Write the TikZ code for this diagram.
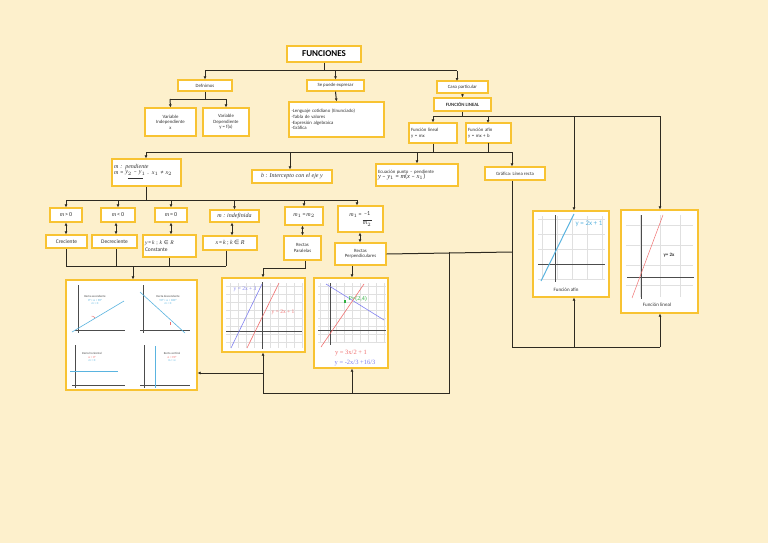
\documentclass[tikz,border=0pt]{standalone}
\usepackage{fontspec}
\setmainfont{Carlito}
\newfontfamily\serifit{Liberation Serif}[ItalicFont=* Italic]
\newfontfamily\dejav{DejaVu Sans}
\usetikzlibrary{arrows.meta}
\definecolor{bgc}{HTML}{FDF0CC}
\definecolor{gold}{HTML}{F8C332}
\definecolor{ln}{HTML}{2E2A20}
\definecolor{sky}{HTML}{5AB4E0}
\definecolor{rd}{HTML}{F07070}
\definecolor{vi}{HTML}{8080F0}
\definecolor{gr}{HTML}{30B040}
\newcommand{\mi}[1]{{\serifit\itshape #1}}
\newcommand{\elem}{{\dejav ∈}}
\tikzset{
 bx/.style={draw=gold,line width=1.2pt,fill=white,inner sep=1pt,align=center,font=\fontsize{4.8}{5.6}\selectfont,text=black!80},
 con/.style={draw=ln,line width=1pt},
 arr/.style={con,-{Latex[length=3pt,width=3pt]}},
 darr/.style={con,{Latex[length=3pt,width=3pt]}-{Latex[length=3pt,width=3pt]}},
 gb/.style={draw=gold,line width=1.2pt,fill=white},
 grd/.style={draw=black!12,line width=0.3pt},
 ax/.style={draw=black!70,line width=0.4pt},
 mt/.style={font=\fontsize{6}{7}\selectfont}
}
\begin{document}
\begin{tikzpicture}[x=1pt,y=-1pt]
\fill[bgc] (0,0) rectangle (768,543);
\useasboundingbox (0,0) rectangle (768,543);
% nodes
\node[bx,minimum width=74,minimum height=16,font=\bfseries\fontsize{9}{10}\selectfont,text=black] (F) at (324,54) {FUNCIONES};
\node[bx,minimum width=54,minimum height=11] (D) at (205,85.5) {Defnimos};
\node[bx,minimum width=57,minimum height=11] (S) at (335.5,85.5) {Se puede expresar};
\node[bx,minimum width=51,minimum height=12] (C) at (462.5,87) {Caso particular};
\node[bx,minimum width=57,minimum height=13,font=\bfseries\fontsize{4.8}{5.6}\selectfont] (FL) at (462.5,104.5) {FUNCIÓN LINEAL};
\node[bx,minimum width=51,minimum height=28] (VI) at (170.5,122) {Variable\\Independiente\\x};
\node[bx,minimum width=46,minimum height=28] (VD) at (226,122) {Variable\\Dependiente\\y = f(x)};
\node[bx,minimum width=95,minimum height=35,align=left,text width=90] (L) at (336.5,119.5) {-Lenguaje cotidiano (Enunciado)\\-Tabla de valores\\-Expresión algebraica\\-Gráfica};
\node[bx,minimum width=48,minimum height=20,align=left,text width=44] (Fl) at (433,133) {Función lineal\\y = mx};
\node[bx,minimum width=45,minimum height=20,align=left,text width=41] (Fa) at (488.5,133) {Función afín\\y = mx + b};
\node[bx,minimum width=69,minimum height=27,align=left,text width=65,mt] (MP) at (146.5,172.5) {\mi{m : pendiente}\\[-1pt]\mi{m} = \raisebox{-1.6pt}{\begin{tabular}{@{}c@{}}\mi{y}$_2$ – \mi{y}$_1$\\[-2.5pt]\rule{15pt}{0.4pt}\end{tabular}} . \mi{x}$_1$ ≠ \mi{x}$_2$};
\node[bx,minimum width=80,minimum height=13,mt] (B) at (292,176.5) {\mi{b : Intercepto con el eje y}};
\node[bx,minimum width=82,minimum height=22,align=left,text width=78] (E) at (417,175) {Ecuación punto – pendiente\\{\fontsize{6.5}{7.5}\selectfont\mi{y} – \mi{y}$_1$ = \mi{m}(\mi{x} – \mi{x}$_1$)}};
\node[bx,minimum width=60,minimum height=13] (G) at (515,173.5) {Gráfica: Línea recta};
\node[bx,minimum width=32,minimum height=14,mt] (r1) at (66,215) {\mi{m}\,>\,0};
\node[bx,minimum width=34,minimum height=14,mt] (r2) at (118,215) {\mi{m}\,<\,0};
\node[bx,minimum width=32,minimum height=14,mt] (r3) at (171,215) {\mi{m}\,=\,0};
\node[bx,minimum width=49,minimum height=12,mt] (r4) at (234.5,216) {\mi{m : indefinida}};
\node[bx,minimum width=38,minimum height=18,mt] (r5) at (304,216) {\mi{m}$_1$\,=\,\mi{m}$_2$};
\node[bx,minimum width=45,minimum height=26,mt] (r6) at (360.5,219) {\mi{m}$_1$\,=\,\raisebox{-4.5pt}{\begin{tabular}{@{}c@{}}–1\\[-2.5pt]\rule{9pt}{0.4pt}\\[-2.5pt]\mi{m}$_2$\end{tabular}}};
\node[bx,minimum width=41,minimum height=13,font=\fontsize{5.5}{6.5}\selectfont] (s1) at (66.5,241.5) {Creciente};
\node[bx,minimum width=45,minimum height=13,font=\fontsize{5.5}{6.5}\selectfont] (s2) at (114.5,241.5) {Decreciente};
\node[bx,minimum width=53,minimum height=22,align=left,text width=49,font=\fontsize{5.5}{6.5}\selectfont] (s3) at (169.5,246) {\mi{y}\,=\,\mi{k} ; \mi{k} \elem{} \mi{R}\\Constante};
\node[bx,minimum width=54,minimum height=14,mt] (s4) at (230,243) {\mi{x}\,=\,\mi{k} ; \mi{k} \elem{} \mi{R}};
\node[bx,minimum width=37,minimum height=24] (s5) at (302.5,248) {Rectas\\Paralelas};
\node[bx,minimum width=51,minimum height=22] (s6) at (360.5,254) {Rectas\\Perpendiculares};
% graph boxes
\node[gb,minimum width=131,minimum height=110,inner sep=0] (G1) at (131.5,335) {};
\node[gb,minimum width=83,minimum height=74,inner sep=0] (G2) at (263.5,315) {};
\node[gb,minimum width=74,minimum height=90,inner sep=0] (G3) at (351,323) {};
\node[gb,minimum width=76,minimum height=86,inner sep=0] (G4) at (571,254) {};
\node[gb,minimum width=77,minimum height=103,inner sep=0] (G5) at (659.5,261.5) {};
% G1 content
\begin{scope}[font=\fontsize{3}{3.5}\selectfont]
\draw[ax] (75,330)--(125,330); \draw[ax] (78,285)--(78,333);
\draw[sky,line width=0.6pt] (72,332)--(124,301);
\node[text=black!70] at (95,296) {Recta ascendente};
\node[text=sky] at (95,300) {0° < α < 90°}; \node[text=sky] at (95,304) {m > 0};
\draw[rd] (95,318) arc (-30:-90:4);
\draw[ax] (140,330)--(190,330); \draw[ax] (143,285)--(143,333);
\draw[sky,line width=0.6pt] (140,292)--(185,333);
\node[text=black!70] at (168,296) {Recta descendente};
\node[text=sky] at (168,300) {90° < α < 180°}; \node[text=sky] at (168,304) {m < 0};
\draw[rd] (170,322) arc (-30:30:3);
\draw[ax] (72,385)--(125,385); \draw[ax] (75,345)--(75,388);
\draw[sky,line width=0.8pt] (70,371)--(118,371);
\node[text=black!70] at (92,353) {Recta horizontal};
\node[text=rd] at (92,357) {α = 0°}; \node[text=sky] at (92,361) {m = 0};
\draw[ax] (140,385)--(190,385); \draw[ax] (144,345)--(144,388);
\draw[sky,line width=0.8pt] (155,346)--(155,388);
\node[text=black!70] at (172,353) {Recta vertical};
\node[text=rd] at (172,357) {α = 90°}; \node[text=sky] at (172,361) {m = ∞};
\end{scope}
% G2
\foreach \x in {230,238,...,302} \draw[grd] (\x,283)--(\x,348);
\foreach \y in {286,294,...,346} \draw[grd] (226,\y)--(302,\y);
\draw[ax] (226,331)--(302,331); \draw[ax] (262,282)--(262,349);
\draw[vi,line width=0.6pt] (231,348)--(262,284);
\draw[rd,line width=0.6pt] (247,348)--(279,283);
\node[text=vi,font=\serifit\fontsize{5.5}{6}\selectfont] at (245,289) {y = 2x + 3};
\node[text=rd,font=\serifit\fontsize{5.5}{6}\selectfont] at (283,312) {y = 2x + 1};
% G3
\foreach \x in {320,328,...,386} \draw[grd] (\x,283)--(\x,343);
\foreach \y in {286,294,...,342} \draw[grd] (318,\y)--(386,\y);
\draw[ax] (318,330)--(386,330); \draw[ax] (330,283)--(330,345);
\draw[vi,line width=0.6pt] (326,284)--(384,320);
\draw[rd,line width=0.6pt] (321,347)--(364,284);
\fill[gr] (343.8,300.2) rectangle ++(2.4,2.4);
\node[text=gr,font=\serifit\fontsize{6}{7}\selectfont,anchor=west] at (345,299) {P=(2,4)};
\node[text=rd,font=\serifit\fontsize{6.5}{7}\selectfont] at (351,353) {y = 3x/2 + 1};
\node[text=vi,font=\serifit\fontsize{6.5}{7}\selectfont] at (355,363) {y = -2x/3 +16/3};
% G4
\foreach \x in {542,557,...,603} \draw[grd] (\x,216)--(\x,280);
\foreach \y in {219,234,249,264,279} \draw[grd] (538,\y)--(605,\y);
\draw[ax] (538,264)--(605,264); \draw[ax] (555,215)--(555,282);
\draw[sky,line width=1pt] (541,281)--(574,214);
\node[text=sky,font=\fontsize{7}{8}\selectfont] at (589,224) {y = 2x + 1};
\node[font=\fontsize{5}{6}\selectfont,text=black!80] at (566,290) {Función afín};
% G5
\foreach \x in {640,660,680} \draw[grd] (\x,215)--(\x,297);
\foreach \y in {225,245,265,285} \draw[grd] (626,\y)--(693,\y);
\draw[ax] (627,277)--(694,277); \draw[ax] (641,215)--(641,299);
\draw[rd,line width=0.5pt] (632,298)--(663,215);
\node[font=\bfseries\fontsize{5}{6}\selectfont,text=black!80] at (669,255) {y= 2x};
\node[font=\fontsize{5}{6}\selectfont,text=black!80] at (657,305) {Función lineal};
% connectors
\coordinate (t1) at (205,71); \coordinate (t2) at (457,71);
\draw[con] (F.south) -- (324,71); \draw[con] (t1)--(t2);
\draw[arr] (t1)--(D.north); \draw[arr] (335.5,71)--(S.north); \draw[arr] (t2)--(457,81);
\draw[con] (D.south)--(205,99); \draw[con] (170,99)--(226,99);
\draw[arr] (170,99)--(VI.north); \draw[arr] (226,99)--(VD.north);
\draw[arr] (S.south)--(L.north);
\draw[arr] (C.south)--(FL.north);
\draw[con] (FL.south)--(462.5,116); \draw[con] (433,116)--(660,116);
\draw[arr] (433,116)--(Fl.north); \draw[arr] (488,116)--(488,123);
\draw[arr] (574,116)--(G4.north -| 574,0); \draw[arr] (660,116)--(G5.north -| 660,0);
\draw[con] (Fl.south)--(433,152); \draw[con] (488,143)--(488,152);
\draw[con] (146,152)--(512,152);
\draw[arr] (146,152)--(MP.north -| 146,0); \draw[arr] (290,152)--(B.north -| 290,0);
\draw[arr] (417,152)--(E.north); \draw[arr] (512,152)--(G.north -| 512,0);
\draw[con] (MP.south -| 146,0)--(146,200); \draw[con] (66,200)--(357,200);
\foreach \n/\x in {r1/66,r2/118,r3/171,r4/234.5,r5/304,r6/357} \draw[arr] (\x,200)--(\n.north -| \x,0);
\foreach \a/\b/\x in {r1/s1/66,r2/s2/116,r3/s3/171,r4/s4/232,r5/s5/302.5,r6/s6/360} \draw[darr] (\a.south -| \x,0)--(\b.north -| \x,0);
\foreach \n/\x in {s1/66,s2/116,s3/169,s4/226} \draw[con] (\n.south -| \x,0)--(\x,266);
\draw[con] (66,266)--(226,266); \draw[arr] (133,266)--(G1.north -| 133,0);
\draw[con] (s5.south -| 305,0)--(305,268)--(263,268); \draw[arr] (263,268)--(G2.north -| 263,0);
\draw[arr] (s6.south -| 352,0)--(G3.north -| 352,0);
\draw[con] (s6.east)--(512,252);
\draw[con] (G.south -| 512,0)--(512,347)--(660,347);
\draw[arr] (574,347)--(G4.south -| 574,0); \draw[arr] (660,347)--(G5.south -| 660,0);
\draw[con] (449,252)--(449,393)--(263,393);
\draw[arr] (263,393)--(G2.south -| 263,0); \draw[arr] (352,393)--(G3.south -| 352,0);
\draw[arr] (263,373)--(G1.east |- 0,373);
\end{tikzpicture}
\end{document}
